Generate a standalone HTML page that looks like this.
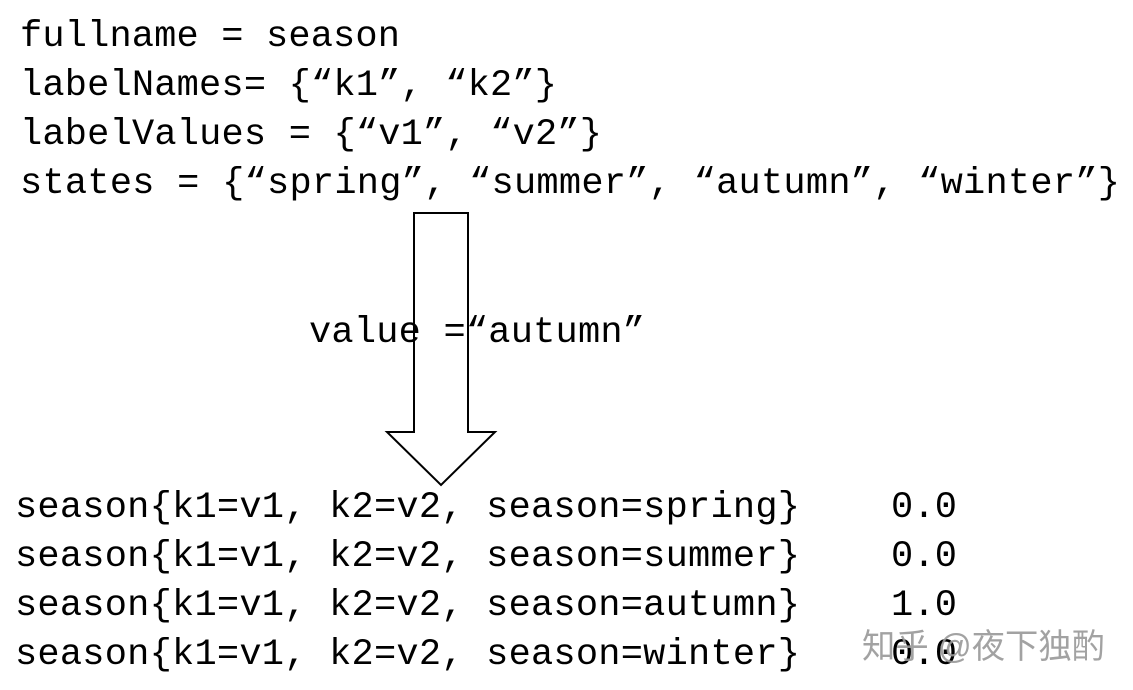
<!DOCTYPE html>
<html><head><meta charset="utf-8"><style>
html,body{margin:0;padding:0;background:#fff;width:1133px;height:690px;overflow:hidden}
svg text{font-family:"Liberation Mono",monospace;font-size:37px;fill:#000;white-space:pre}
</style></head><body>
<svg width="1133" height="690" viewBox="0 0 1133 690" xmlns="http://www.w3.org/2000/svg" xml:space="preserve">
<text x="20" y="46" textLength="380" lengthAdjust="spacing">fullname = season</text>
<text x="20" y="95" textLength="537" lengthAdjust="spacing">labelNames= {“k1”, “k2”}</text>
<text x="20" y="144" textLength="582" lengthAdjust="spacing">labelValues = {“v1”, “v2”}</text>
<text x="20" y="193" textLength="1100" lengthAdjust="spacing">states = {“spring”, “summer”, “autumn”, “winter”}</text>
<text x="309" y="342" textLength="336" lengthAdjust="spacing">value =“autumn”</text>
<polygon points="414,213 468,213 468,432 495,432 441,485 387,432 414,432" fill="none" stroke="#000" stroke-width="2"/>
<text x="15" y="517" textLength="785" lengthAdjust="spacing">season{k1=v1, k2=v2, season=spring}</text>
<text x="15" y="566" textLength="785" lengthAdjust="spacing">season{k1=v1, k2=v2, season=summer}</text>
<text x="15" y="615" textLength="785" lengthAdjust="spacing">season{k1=v1, k2=v2, season=autumn}</text>
<text x="15" y="664" textLength="785" lengthAdjust="spacing">season{k1=v1, k2=v2, season=winter}</text>
<text x="891" y="517" textLength="66" lengthAdjust="spacing">0.0</text>
<text x="891" y="566" textLength="66" lengthAdjust="spacing">0.0</text>
<text x="891" y="615" textLength="66" lengthAdjust="spacing">1.0</text>
<text x="891" y="664" textLength="66" lengthAdjust="spacing">0.0</text>
<text x="862" y="658" textLength="243" lengthAdjust="spacingAndGlyphs" style="font-family:'Liberation Sans','Noto Sans CJK SC',sans-serif;font-size:34px;fill:#999;opacity:0.9">知乎 @夜下独酌</text>
</svg>
</body></html>
